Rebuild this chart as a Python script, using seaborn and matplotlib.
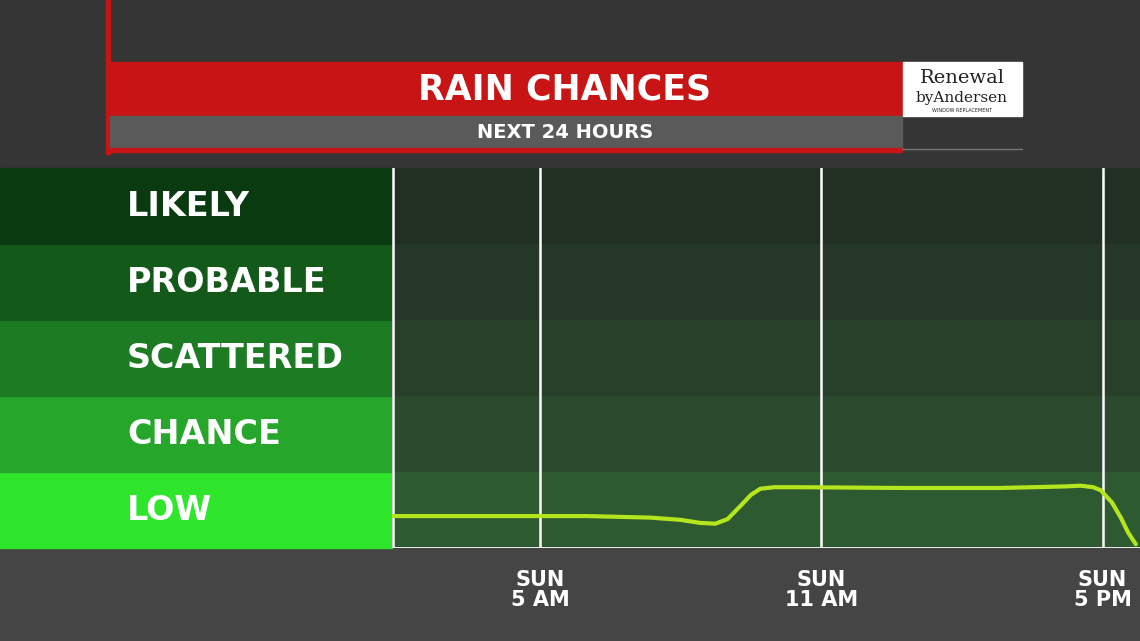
import matplotlib
matplotlib.use("Agg")
import numpy as np
import pandas as pd
import seaborn as sns
from matplotlib import pyplot as plt
from matplotlib.patches import Rectangle

sns.set_style("dark")
plt.rcParams['font.family'] = ['DejaVu Sans']

categories = ["LOW", "CHANCE", "SCATTERED", "PROBABLE", "LIKELY"]
label_colors = ["#30e62c", "#26a72c", "#1d7b24", "#135a1a", "#0a3a10"]
band_colors = ["#2d5a30", "#2b4a2e", "#283f2a", "#253828", "#223024"]
tick_hours = [5, 11, 17]
tick_labels = ["SUN\n5 AM", "SUN\n11 AM", "SUN\n5 PM"]
hours = [1.86, 4.15, 6.0, 7.35, 8.0, 8.42, 8.74, 9.0, 9.27, 9.5, 9.70, 10.0, 10.55,
         12.69, 14.82, 16.2, 16.53, 16.8, 16.96, 17.2, 17.39, 17.55, 17.71]
chance = [0.42, 0.42, 0.42, 0.40, 0.37, 0.33, 0.32, 0.38, 0.55, 0.70, 0.78, 0.80, 0.80,
          0.79, 0.79, 0.81, 0.82, 0.80, 0.76, 0.60, 0.40, 0.20, 0.05]
df = pd.DataFrame({"hour": hours, "chance": chance})

W, H = 1140, 641
fig = plt.figure(figsize=(W / 100, H / 100), dpi=100)
fig.patch.set_facecolor("#3a3a3a")


def box(x0, y0, x1, y1):
    return [x0 / W, 1 - y1 / H, (x1 - x0) / W, (y1 - y0) / H]


# overlay axes for header
bg = fig.add_axes([0, 0, 1, 1])
bg.set_xlim(0, W)
bg.set_ylim(H, 0)
bg.axis("off")
bg.add_patch(Rectangle((0, 0), W, H, color="#353535"))
bg.add_patch(Rectangle((0, 548), W, 93, color="#454545"))
bg.add_patch(Rectangle((106, 0), 4, 154, color="#c81414"))
bg.add_patch(Rectangle((110, 62), 792, 54, color="#c81414"))
bg.add_patch(Rectangle((110, 116), 792, 34, color="#5a5a5a"))
bg.add_patch(Rectangle((110, 148), 792, 4, color="#c81414"))
bg.plot([902, 1022], [149, 149], color="#777777", lw=1)
bg.text(565, 89, "RAIN CHANCES", color="white", fontsize=25, fontweight="bold",
        ha="center", va="center")
bg.text(565, 133, "NEXT 24 HOURS", color="white", fontsize=14, fontweight="bold",
        ha="center", va="center")
bg.add_patch(Rectangle((903, 62), 119, 54, color="white"))
bg.text(962, 78, "Renewal", color="#222222", fontsize=14, family="serif",
        ha="center", va="center")
bg.text(962, 98, "byAndersen", color="#222222", fontsize=11, family="serif",
        ha="center", va="center")
bg.text(962, 111, "WINDOW REPLACEMENT", color="#222222", fontsize=3.5,
        ha="center", va="center")

# category labels
for i, (cat, col) in enumerate(zip(categories, label_colors)):
    y1 = 548 - i * 76
    bg.add_patch(Rectangle((0, y1 - 76), 392, 76, color=col))
    bg.text(127, y1 - 38, cat, color="white", fontsize=24, fontweight="bold",
            ha="left", va="center")

# chart area
ax = fig.add_axes(box(392, 168, 1140, 548))
for i, col in enumerate(band_colors):
    ax.axhspan(i, i + 1, color=col, lw=0)
for h in [1.86] + tick_hours:
    ax.axvline(h, color="white", lw=1.8)
sns.lineplot(data=df, x="hour", y="chance", ax=ax, color="#b5e61d", lw=3)
ax.set_xlim(1.84, 17.8)
ax.set_ylim(0, 5)
ax.set_xticks(tick_hours)
ax.set_xticklabels(tick_labels, color="white", fontsize=15, fontweight="bold",
                   linespacing=1.0)
ax.tick_params(axis="x", length=0, pad=16)
ax.set_yticks([])
ax.set_xlabel("")
ax.set_ylabel("")
for s in ax.spines.values():
    s.set_visible(False)
ax.axhline(0, color="white", lw=2)

fig.savefig("out.png", dpi=100, facecolor=fig.get_facecolor())
